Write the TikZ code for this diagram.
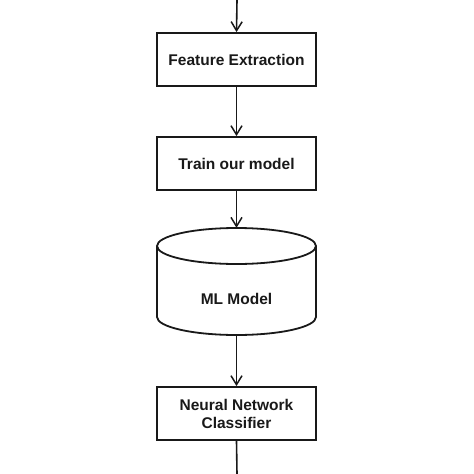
\documentclass[tikz,border=0pt]{standalone}
\usepackage{fontspec}
\setmainfont{Liberation Sans}
\usetikzlibrary{arrows.meta}
\begin{document}
\begin{tikzpicture}[x=1pt,y=-1pt,
  box/.style={draw=black!90, line width=1.8pt, minimum width=159pt, minimum height=53pt,
    inner sep=0pt, align=center, font=\fontsize{15.5}{18}\selectfont\bfseries, text=black!90},
  conn/.style={draw=black!90, line width=1.6pt, -{Straight Barb[length=9pt,width=11pt,line width=1.5pt]}},
  plain/.style={draw=black!90, line width=1.6pt},
  lbl/.style={font=\fontsize{15.5}{18}\selectfont\bfseries, text=black!90}]
\useasboundingbox (0,0) rectangle (474,474);
\coordinate (top) at (237,0);
\coordinate (bot) at (237,474);
\node[box] (fe) at (236.5,59.5) {Feature Extraction};
\node[box] (tr) at (236.5,163.5) {Train our model};
\node[box] (nn) at (236.5,413.5) {Neural Network\\Classifier};
% cylinder
\draw[draw=black!90, line width=1.8pt, fill=white]
  (157,246) -- (157,317) arc[start angle=180, end angle=360, x radius=79.5, y radius=-18]
  -- (316,246);
\draw[draw=black!90, line width=1.8pt] (236.5,246) ellipse[x radius=79.5, y radius=18];
\node[minimum width=159pt, minimum height=107pt, inner sep=0pt] (ml) at (236.5,281.5) {};
\node[lbl] (mllbl) at (236.5,299) {ML Model};
\draw[conn] (top) -- (fe.north);
\draw[conn] (fe.south) -- (tr.north);
\draw[conn] (tr.south) -- (ml.north);
\draw[conn] (ml.south) -- (nn.north);
\draw[plain] (nn.south) -- (bot);
\end{tikzpicture}
\end{document}
